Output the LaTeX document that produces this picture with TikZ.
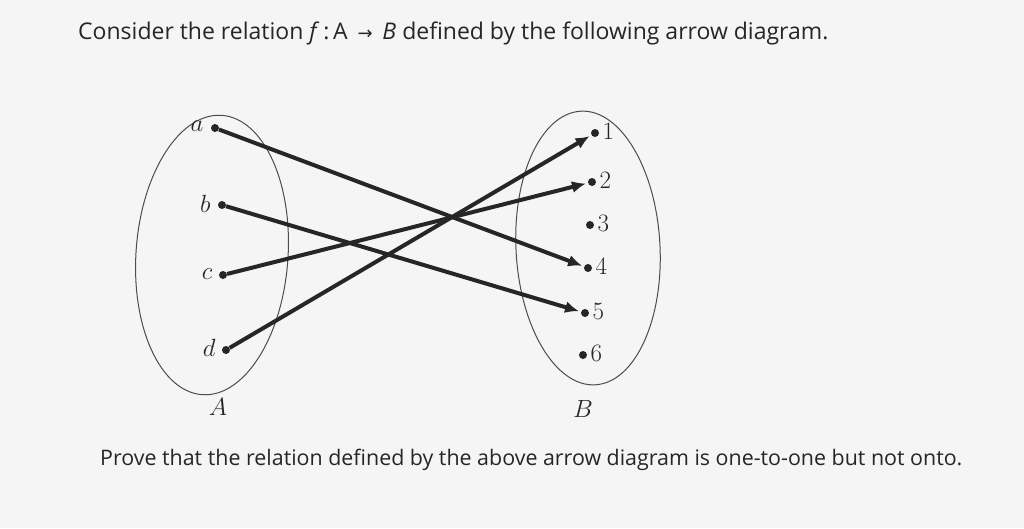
\documentclass[tikz,border=0pt]{standalone}
\usepackage{fontspec}
\setsansfont{Open Sans}
\usetikzlibrary{arrows.meta}
\begin{document}
\begin{tikzpicture}[x=1pt,y=-1pt,
  pt/.style={circle,fill=black!85,inner sep=0pt,minimum size=8pt},
  lbl/.style={font=\fontsize{25}{25}\selectfont,text=black!85},
  conn/.style={line width=4pt,black!85,-{Latex[length=14pt,width=12pt]},shorten >=2pt},
  txt/.style={font=\sffamily\fontsize{22.5}{23}\selectfont,text=black!85,anchor=west,inner sep=0pt}]
\fill[black!4] (0,0) rectangle (1024,528);
\useasboundingbox (0,0) rectangle (1024,528);
\node[txt,font=\sffamily\fontsize{23}{23}\selectfont] (title) at (78,33) {Consider the relation \textit{f}\,:\,A \,{\fontspec{DejaVu Sans}\fontsize{18}{18}\selectfont→}\, \textit{B} defined by the following arrow diagram.};
\node[txt,font=\sffamily\fontsize{21.4}{22}\selectfont] (bottom) at (100,460) {Prove that the relation defined by the above arrow diagram is one-to-one but not onto.};
\draw[black!70,line width=1pt,rotate around={-4:(212,255)}] (212,255) ellipse[x radius=76,y radius=140];
\draw[black!70,line width=1pt,rotate around={3:(588,248)}] (588,248) ellipse[x radius=72,y radius=137];
\node[pt] (a) at (215,128) {}; \node[lbl,anchor=east] (la) at (207,126) {$a$};
\node[pt] (b) at (222,205) {}; \node[lbl,anchor=east] (lb) at (214,204) {$b$};
\node[pt] (c) at (223,275) {}; \node[lbl,anchor=east] (lc) at (216,274) {$c$};
\node[pt] (d) at (226,350) {}; \node[lbl,anchor=east] (ld) at (219,348) {$d$};
\node[pt] (n1) at (595,133) {}; \node[lbl,anchor=west] (l1) at (599,131) {1};
\node[pt] (n2) at (592,182) {}; \node[lbl,anchor=west] (l2) at (596,180) {2};
\node[pt] (n3) at (590,225) {}; \node[lbl,anchor=west] (l3) at (594,223) {3};
\node[pt] (n4) at (588,268) {}; \node[lbl,anchor=west] (l4) at (592,266) {4};
\node[pt] (n5) at (585,313) {}; \node[lbl,anchor=west] (l5) at (589,311) {5};
\node[pt] (n6) at (583,355) {}; \node[lbl,anchor=west] (l6) at (587,353) {6};
\node[lbl] (A) at (218,407) {$A$};
\node[lbl] (B) at (583,409) {$B$};
\draw[conn] (a) -- (n4);
\draw[conn] (b) -- (n5);
\draw[conn] (c) -- (n2);
\draw[conn] (d) -- (n1);
\end{tikzpicture}
\end{document}
